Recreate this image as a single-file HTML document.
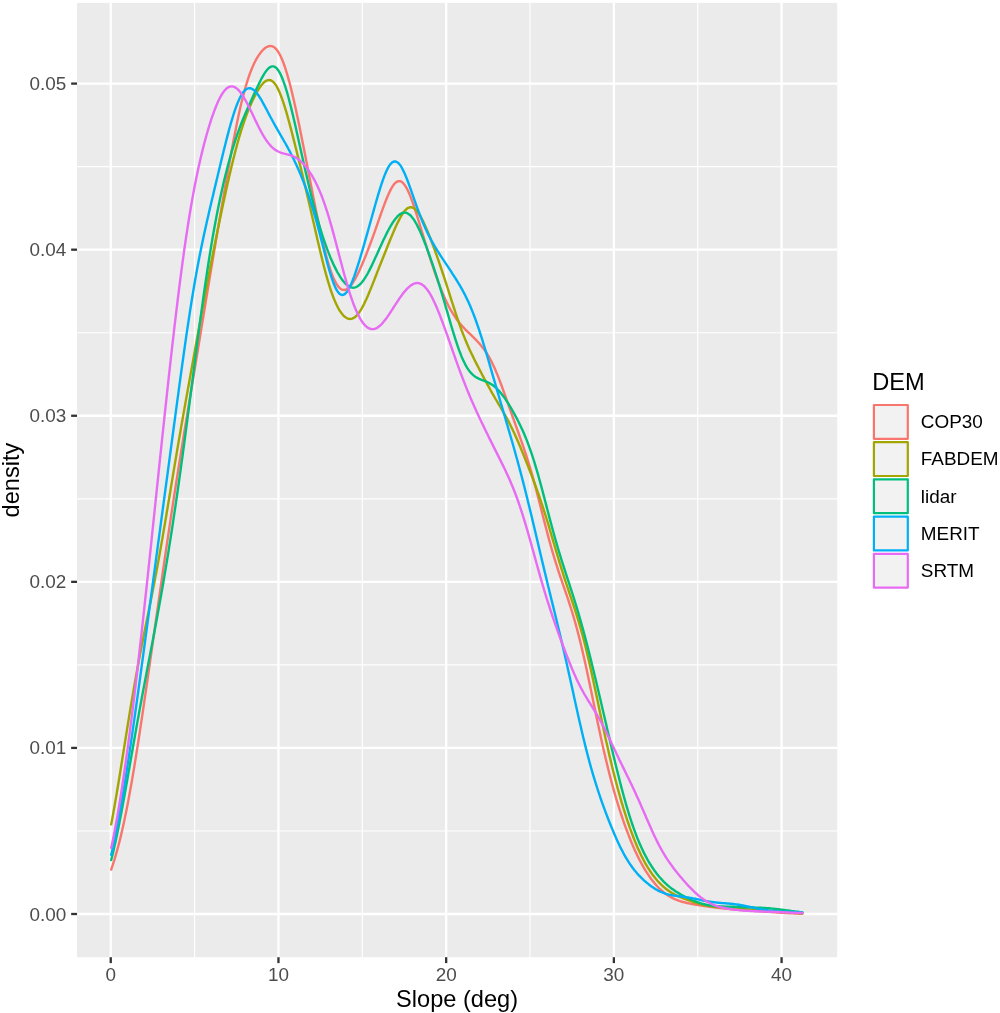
<!DOCTYPE html>
<html><head><meta charset="utf-8"><title>Slope density</title>
<style>html,body{margin:0;padding:0;background:#fff;overflow:hidden}svg{display:block}text{font-family:"Liberation Sans",sans-serif}</style></head><body>
<svg width="1000" height="1013" viewBox="0 0 1000 1013">
<rect x="0" y="0" width="1000" height="1013" fill="#fff"/>
<rect x="77.05" y="2.9" width="760.15" height="954.30" fill="#EBEBEB"/>
<g stroke="#fff" stroke-width="1.15" fill="none">
<line x1="194.61" x2="194.61" y1="2.9" y2="957.2"/>
<line x1="362.31" x2="362.31" y1="2.9" y2="957.2"/>
<line x1="530.03" x2="530.03" y1="2.9" y2="957.2"/>
<line x1="697.74" x2="697.74" y1="2.9" y2="957.2"/>
<line y1="830.96" y2="830.96" x1="77.05" x2="837.2"/>
<line y1="664.88" y2="664.88" x1="77.05" x2="837.2"/>
<line y1="498.80" y2="498.80" x1="77.05" x2="837.2"/>
<line y1="332.72" y2="332.72" x1="77.05" x2="837.2"/>
<line y1="166.64" y2="166.64" x1="77.05" x2="837.2"/>
</g>
<g stroke="#fff" stroke-width="2.3" fill="none">
<line x1="110.75" x2="110.75" y1="2.9" y2="957.2"/>
<line x1="278.46" x2="278.46" y1="2.9" y2="957.2"/>
<line x1="446.17" x2="446.17" y1="2.9" y2="957.2"/>
<line x1="613.88" x2="613.88" y1="2.9" y2="957.2"/>
<line x1="781.59" x2="781.59" y1="2.9" y2="957.2"/>
<line y1="914.00" y2="914.00" x1="77.05" x2="837.2"/>
<line y1="747.92" y2="747.92" x1="77.05" x2="837.2"/>
<line y1="581.84" y2="581.84" x1="77.05" x2="837.2"/>
<line y1="415.76" y2="415.76" x1="77.05" x2="837.2"/>
<line y1="249.68" y2="249.68" x1="77.05" x2="837.2"/>
<line y1="83.60" y2="83.60" x1="77.05" x2="837.2"/>
</g>
<g fill="none" stroke-width="2.4" stroke-linejoin="round" stroke-linecap="round">
<path stroke="#F8766D" d="M111.2,869.5 L112.2,866.6 L113.2,863.6 L114.2,860.5 L115.2,857.2 L116.2,853.7 L117.2,850.2 L118.2,846.5 L119.2,842.6 L120.2,838.6 L121.2,834.4 L122.2,830.1 L123.2,825.7 L124.2,821.1 L125.2,816.3 L126.2,811.4 L127.2,806.4 L128.2,801.2 L129.2,795.8 L130.2,790.3 L131.2,784.7 L132.2,779.0 L133.2,773.1 L134.2,767.2 L135.2,761.1 L136.2,754.9 L137.2,748.6 L138.2,742.2 L139.2,735.7 L140.2,729.1 L141.2,722.5 L142.2,715.8 L143.2,709.1 L144.2,702.2 L145.2,695.4 L146.2,688.5 L147.2,681.6 L148.2,674.6 L149.2,667.6 L150.2,660.6 L151.2,653.6 L152.2,646.5 L153.2,639.5 L154.2,632.5 L155.2,625.4 L156.2,618.4 L157.2,611.4 L158.2,604.3 L159.2,597.3 L160.2,590.3 L161.2,583.4 L162.2,576.4 L163.2,569.5 L164.2,562.6 L165.2,555.7 L166.2,548.9 L167.2,542.1 L168.2,535.3 L169.2,528.6 L170.2,521.9 L171.2,515.3 L172.2,508.7 L173.2,502.1 L174.2,495.6 L175.2,489.2 L176.2,482.7 L177.2,476.4 L178.2,470.0 L179.2,463.7 L180.2,457.5 L181.2,451.3 L182.2,445.1 L183.2,438.9 L184.2,432.8 L185.2,426.7 L186.2,420.6 L187.2,414.5 L188.2,408.5 L189.2,402.4 L190.2,396.3 L191.2,390.3 L192.2,384.2 L193.2,378.2 L194.2,372.1 L195.2,366.0 L196.2,359.9 L197.2,353.8 L198.2,347.7 L199.2,341.6 L200.2,335.5 L201.2,329.4 L202.2,323.3 L203.2,317.2 L204.2,311.1 L205.2,305.0 L206.2,298.9 L207.2,292.8 L208.2,286.8 L209.2,280.8 L210.2,274.7 L211.2,268.7 L212.2,262.8 L213.2,256.8 L214.2,250.9 L215.2,245.0 L216.2,239.1 L217.2,233.2 L218.2,227.3 L219.2,221.5 L220.2,215.6 L221.2,209.8 L222.2,204.0 L223.2,198.2 L224.2,192.5 L225.2,186.7 L226.2,181.0 L227.2,175.3 L228.2,169.7 L229.2,164.1 L230.2,158.5 L231.2,153.1 L232.2,147.6 L233.2,142.3 L234.2,137.1 L235.2,131.9 L236.2,126.9 L237.2,122.0 L238.2,117.2 L239.2,112.6 L240.2,108.1 L241.2,103.8 L242.2,99.7 L243.2,95.7 L244.2,91.9 L245.2,88.3 L246.2,84.8 L247.2,81.6 L248.2,78.5 L249.2,75.5 L250.2,72.8 L251.2,70.2 L252.2,67.7 L253.2,65.5 L254.2,63.3 L255.2,61.3 L256.2,59.4 L257.2,57.7 L258.2,56.1 L259.2,54.6 L260.2,53.2 L261.2,51.9 L262.2,50.8 L263.2,49.7 L264.2,48.8 L265.2,48.0 L266.2,47.3 L267.2,46.8 L268.2,46.4 L269.2,46.1 L270.2,46.0 L271.2,46.1 L272.2,46.3 L273.2,46.7 L274.2,47.3 L275.2,48.1 L276.2,49.1 L277.2,50.4 L278.2,51.8 L279.2,53.5 L280.2,55.3 L281.2,57.4 L282.2,59.7 L283.2,62.2 L284.2,65.0 L285.2,67.9 L286.2,71.0 L287.2,74.3 L288.2,77.8 L289.2,81.5 L290.2,85.3 L291.2,89.3 L292.2,93.4 L293.2,97.7 L294.2,102.1 L295.2,106.5 L296.2,111.1 L297.2,115.8 L298.2,120.5 L299.2,125.3 L300.2,130.2 L301.2,135.2 L302.2,140.2 L303.2,145.2 L304.2,150.3 L305.2,155.3 L306.2,160.5 L307.2,165.6 L308.2,170.7 L309.2,175.9 L310.2,181.0 L311.2,186.2 L312.2,191.3 L313.2,196.4 L314.2,201.4 L315.2,206.4 L316.2,211.4 L317.2,216.3 L318.2,221.1 L319.2,225.8 L320.2,230.5 L321.2,235.0 L322.2,239.4 L323.2,243.7 L324.2,247.9 L325.2,251.9 L326.2,255.7 L327.2,259.4 L328.2,262.9 L329.2,266.2 L330.2,269.3 L331.2,272.2 L332.2,274.9 L333.2,277.4 L334.2,279.6 L335.2,281.7 L336.2,283.5 L337.2,285.1 L338.2,286.4 L339.2,287.6 L340.2,288.5 L341.2,289.2 L342.2,289.7 L343.2,289.9 L344.2,290.0 L345.2,289.8 L346.2,289.4 L347.2,288.9 L348.2,288.2 L349.2,287.3 L350.2,286.2 L351.2,285.0 L352.2,283.7 L353.2,282.2 L354.2,280.5 L355.2,278.8 L356.2,277.0 L357.2,275.0 L358.2,273.0 L359.2,270.9 L360.2,268.7 L361.2,266.5 L362.2,264.2 L363.2,261.8 L364.2,259.4 L365.2,257.0 L366.2,254.5 L367.2,251.9 L368.2,249.3 L369.2,246.7 L370.2,244.0 L371.2,241.3 L372.2,238.6 L373.2,235.9 L374.2,233.1 L375.2,230.3 L376.2,227.4 L377.2,224.6 L378.2,221.7 L379.2,218.9 L380.2,216.0 L381.2,213.2 L382.2,210.4 L383.2,207.6 L384.2,204.9 L385.2,202.3 L386.2,199.7 L387.2,197.2 L388.2,194.9 L389.2,192.7 L390.2,190.6 L391.2,188.7 L392.2,187.0 L393.2,185.4 L394.2,184.1 L395.2,183.0 L396.2,182.2 L397.2,181.6 L398.2,181.2 L399.2,181.1 L400.2,181.2 L401.2,181.6 L402.2,182.3 L403.2,183.2 L404.2,184.4 L405.2,185.8 L406.2,187.4 L407.2,189.2 L408.2,191.3 L409.2,193.5 L410.2,195.9 L411.2,198.5 L412.2,201.2 L413.2,204.0 L414.2,206.9 L415.2,210.0 L416.2,213.1 L417.2,216.2 L418.2,219.5 L419.2,222.7 L420.2,226.0 L421.2,229.3 L422.2,232.6 L423.2,235.9 L424.2,239.2 L425.2,242.5 L426.2,245.7 L427.2,249.0 L428.2,252.2 L429.2,255.3 L430.2,258.5 L431.2,261.6 L432.2,264.6 L433.2,267.6 L434.2,270.6 L435.2,273.5 L436.2,276.3 L437.2,279.1 L438.2,281.8 L439.2,284.5 L440.2,287.1 L441.2,289.6 L442.2,292.1 L443.2,294.5 L444.2,296.8 L445.2,299.0 L446.2,301.2 L447.2,303.3 L448.2,305.3 L449.2,307.2 L450.2,309.1 L451.2,310.8 L452.2,312.5 L453.2,314.2 L454.2,315.7 L455.2,317.2 L456.2,318.6 L457.2,320.0 L458.2,321.3 L459.2,322.6 L460.2,323.8 L461.2,324.9 L462.2,326.1 L463.2,327.1 L464.2,328.2 L465.2,329.3 L466.2,330.3 L467.2,331.3 L468.2,332.3 L469.2,333.2 L470.2,334.2 L471.2,335.2 L472.2,336.2 L473.2,337.1 L474.2,338.1 L475.2,339.1 L476.2,340.1 L477.2,341.2 L478.2,342.3 L479.2,343.4 L480.2,344.5 L481.2,345.7 L482.2,346.9 L483.2,348.2 L484.2,349.6 L485.2,351.0 L486.2,352.5 L487.2,354.0 L488.2,355.7 L489.2,357.4 L490.2,359.2 L491.2,361.1 L492.2,363.1 L493.2,365.2 L494.2,367.3 L495.2,369.6 L496.2,371.9 L497.2,374.3 L498.2,376.8 L499.2,379.4 L500.2,382.0 L501.2,384.7 L502.2,387.4 L503.2,390.2 L504.2,392.9 L505.2,395.7 L506.2,398.6 L507.2,401.4 L508.2,404.2 L509.2,407.1 L510.2,409.9 L511.2,412.7 L512.2,415.5 L513.2,418.3 L514.2,421.1 L515.2,423.9 L516.2,426.7 L517.2,429.4 L518.2,432.2 L519.2,435.0 L520.2,437.8 L521.2,440.6 L522.2,443.5 L523.2,446.4 L524.2,449.3 L525.2,452.3 L526.2,455.4 L527.2,458.5 L528.2,461.7 L529.2,464.9 L530.2,468.3 L531.2,471.7 L532.2,475.2 L533.2,478.7 L534.2,482.4 L535.2,486.1 L536.2,489.8 L537.2,493.7 L538.2,497.5 L539.2,501.4 L540.2,505.3 L541.2,509.3 L542.2,513.2 L543.2,517.2 L544.2,521.1 L545.2,525.0 L546.2,528.8 L547.2,532.6 L548.2,536.4 L549.2,540.1 L550.2,543.7 L551.2,547.3 L552.2,550.8 L553.2,554.2 L554.2,557.6 L555.2,560.8 L556.2,564.0 L557.2,567.2 L558.2,570.3 L559.2,573.3 L560.2,576.3 L561.2,579.2 L562.2,582.1 L563.2,585.1 L564.2,588.0 L565.2,590.9 L566.2,593.8 L567.2,596.7 L568.2,599.7 L569.2,602.8 L570.2,605.8 L571.2,609.0 L572.2,612.2 L573.2,615.6 L574.2,619.0 L575.2,622.5 L576.2,626.1 L577.2,629.8 L578.2,633.6 L579.2,637.5 L580.2,641.5 L581.2,645.7 L582.2,649.9 L583.2,654.2 L584.2,658.6 L585.2,663.1 L586.2,667.6 L587.2,672.2 L588.2,676.9 L589.2,681.7 L590.2,686.4 L591.2,691.2 L592.2,696.1 L593.2,700.9 L594.2,705.7 L595.2,710.6 L596.2,715.4 L597.2,720.2 L598.2,724.9 L599.2,729.6 L600.2,734.3 L601.2,738.9 L602.2,743.4 L603.2,747.9 L604.2,752.2 L605.2,756.6 L606.2,760.8 L607.2,764.9 L608.2,769.0 L609.2,773.0 L610.2,776.9 L611.2,780.7 L612.2,784.4 L613.2,788.1 L614.2,791.7 L615.2,795.2 L616.2,798.6 L617.2,801.9 L618.2,805.2 L619.2,808.4 L620.2,811.5 L621.2,814.5 L622.2,817.5 L623.2,820.4 L624.2,823.3 L625.2,826.1 L626.2,828.8 L627.2,831.5 L628.2,834.1 L629.2,836.7 L630.2,839.2 L631.2,841.7 L632.2,844.1 L633.2,846.4 L634.2,848.7 L635.2,850.9 L636.2,853.1 L637.2,855.2 L638.2,857.2 L639.2,859.2 L640.2,861.2 L641.2,863.0 L642.2,864.9 L643.2,866.7 L644.2,868.4 L645.2,870.0 L646.2,871.7 L647.2,873.2 L648.2,874.7 L649.2,876.2 L650.2,877.6 L651.2,879.0 L652.2,880.3 L653.2,881.6 L654.2,882.8 L655.2,884.0 L656.2,885.1 L657.2,886.2 L658.2,887.3 L659.2,888.3 L660.2,889.2 L661.2,890.2 L662.2,891.0 L663.2,891.9 L664.2,892.7 L665.2,893.5 L666.2,894.2 L667.2,894.9 L668.2,895.6 L669.2,896.2 L670.2,896.8 L671.2,897.4 L672.2,897.9 L673.2,898.4 L674.2,898.9 L675.2,899.3 L676.2,899.7 L677.2,900.1 L678.2,900.5 L679.2,900.8 L680.2,901.2 L681.2,901.5 L682.2,901.8 L683.2,902.0 L684.2,902.3 L685.2,902.5 L686.2,902.8 L687.2,903.0 L688.2,903.2 L689.2,903.4 L690.2,903.6 L691.2,903.8 L692.2,904.0 L693.2,904.2 L694.2,904.3 L695.2,904.5 L696.2,904.7 L697.2,904.8 L698.2,905.0 L699.2,905.2 L700.2,905.3 L701.2,905.5 L702.2,905.6 L703.2,905.8 L704.2,906.0 L705.2,906.1 L706.2,906.3 L707.2,906.4 L708.2,906.6 L709.2,906.7 L710.2,906.8 L711.2,907.0 L712.2,907.1 L713.2,907.2 L714.2,907.4 L715.2,907.5 L716.2,907.6 L717.2,907.8 L718.2,907.9 L719.2,908.0 L720.2,908.1 L721.2,908.2 L722.2,908.3 L723.2,908.4 L724.2,908.5 L725.2,908.6 L726.2,908.7 L727.2,908.8 L728.2,908.9 L729.2,909.0 L730.2,909.1 L731.2,909.2 L732.2,909.3 L733.2,909.4 L734.2,909.5 L735.2,909.6 L736.2,909.6 L737.2,909.7 L738.2,909.8 L739.2,909.9 L740.2,910.0 L741.2,910.0 L742.2,910.1 L743.2,910.2 L744.2,910.3 L745.2,910.3 L746.2,910.4 L747.2,910.5 L748.2,910.5 L749.2,910.6 L750.2,910.7 L751.2,910.7 L752.2,910.8 L753.2,910.9 L754.2,910.9 L755.2,911.0 L756.2,911.1 L757.2,911.1 L758.2,911.2 L759.2,911.2 L760.2,911.3 L761.2,911.4 L762.2,911.4 L763.2,911.5 L764.2,911.6 L765.2,911.6 L766.2,911.7 L767.2,911.8 L768.2,911.8 L769.2,911.9 L770.2,912.0 L771.2,912.1 L772.2,912.1 L773.2,912.2 L774.2,912.3 L775.2,912.3 L776.2,912.4 L777.2,912.5 L778.2,912.6 L779.2,912.6 L780.2,912.7 L781.2,912.8 L782.2,912.8 L783.2,912.9 L784.2,913.0 L785.2,913.0 L786.2,913.1 L787.2,913.1 L788.2,913.2 L789.2,913.2 L790.2,913.3 L791.2,913.3 L792.2,913.4 L793.2,913.4 L794.2,913.5 L795.2,913.5 L796.2,913.6 L797.2,913.6 L798.2,913.6 L799.2,913.7 L800.2,913.7 L801.2,913.7 L802.2,913.7 L802.3,913.8"/>
<path stroke="#A3A500" d="M111.2,824.4 L112.2,819.0 L113.2,813.6 L114.2,808.0 L115.2,802.3 L116.2,796.5 L117.2,790.5 L118.2,784.5 L119.2,778.4 L120.2,772.2 L121.2,766.0 L122.2,759.8 L123.2,753.5 L124.2,747.2 L125.2,741.0 L126.2,734.7 L127.2,728.5 L128.2,722.3 L129.2,716.1 L130.2,710.0 L131.2,704.0 L132.2,698.1 L133.2,692.2 L134.2,686.4 L135.2,680.8 L136.2,675.2 L137.2,669.7 L138.2,664.2 L139.2,658.9 L140.2,653.6 L141.2,648.4 L142.2,643.3 L143.2,638.3 L144.2,633.2 L145.2,628.2 L146.2,623.3 L147.2,618.3 L148.2,613.4 L149.2,608.4 L150.2,603.5 L151.2,598.5 L152.2,593.4 L153.2,588.3 L154.2,583.2 L155.2,577.9 L156.2,572.7 L157.2,567.3 L158.2,561.9 L159.2,556.4 L160.2,550.8 L161.2,545.1 L162.2,539.4 L163.2,533.6 L164.2,527.8 L165.2,521.9 L166.2,516.0 L167.2,510.0 L168.2,504.0 L169.2,498.0 L170.2,492.0 L171.2,485.9 L172.2,479.9 L173.2,473.9 L174.2,467.9 L175.2,462.0 L176.2,456.0 L177.2,450.1 L178.2,444.3 L179.2,438.4 L180.2,432.7 L181.2,426.9 L182.2,421.2 L183.2,415.5 L184.2,409.9 L185.2,404.2 L186.2,398.6 L187.2,393.1 L188.2,387.5 L189.2,382.0 L190.2,376.4 L191.2,370.9 L192.2,365.4 L193.2,359.9 L194.2,354.3 L195.2,348.8 L196.2,343.3 L197.2,337.8 L198.2,332.3 L199.2,326.8 L200.2,321.3 L201.2,315.8 L202.2,310.4 L203.2,304.9 L204.2,299.5 L205.2,294.1 L206.2,288.8 L207.2,283.5 L208.2,278.2 L209.2,272.9 L210.2,267.7 L211.2,262.5 L212.2,257.4 L213.2,252.3 L214.2,247.3 L215.2,242.2 L216.2,237.3 L217.2,232.4 L218.2,227.5 L219.2,222.6 L220.2,217.8 L221.2,213.0 L222.2,208.3 L223.2,203.6 L224.2,199.0 L225.2,194.4 L226.2,189.8 L227.2,185.3 L228.2,180.9 L229.2,176.5 L230.2,172.2 L231.2,167.9 L232.2,163.8 L233.2,159.7 L234.2,155.7 L235.2,151.8 L236.2,148.0 L237.2,144.3 L238.2,140.7 L239.2,137.2 L240.2,133.8 L241.2,130.5 L242.2,127.3 L243.2,124.3 L244.2,121.3 L245.2,118.5 L246.2,115.7 L247.2,113.1 L248.2,110.5 L249.2,108.1 L250.2,105.7 L251.2,103.4 L252.2,101.3 L253.2,99.1 L254.2,97.1 L255.2,95.2 L256.2,93.3 L257.2,91.6 L258.2,89.9 L259.2,88.3 L260.2,86.8 L261.2,85.5 L262.2,84.3 L263.2,83.2 L264.2,82.2 L265.2,81.4 L266.2,80.8 L267.2,80.4 L268.2,80.1 L269.2,80.0 L270.2,80.2 L271.2,80.5 L272.2,81.1 L273.2,81.9 L274.2,83.0 L275.2,84.2 L276.2,85.7 L277.2,87.4 L278.2,89.4 L279.2,91.5 L280.2,93.9 L281.2,96.5 L282.2,99.2 L283.2,102.1 L284.2,105.2 L285.2,108.4 L286.2,111.7 L287.2,115.2 L288.2,118.8 L289.2,122.4 L290.2,126.1 L291.2,129.9 L292.2,133.8 L293.2,137.6 L294.2,141.6 L295.2,145.5 L296.2,149.5 L297.2,153.5 L298.2,157.6 L299.2,161.6 L300.2,165.7 L301.2,169.8 L302.2,173.9 L303.2,178.0 L304.2,182.2 L305.2,186.4 L306.2,190.6 L307.2,194.9 L308.2,199.2 L309.2,203.5 L310.2,207.8 L311.2,212.2 L312.2,216.5 L313.2,220.9 L314.2,225.3 L315.2,229.7 L316.2,234.1 L317.2,238.4 L318.2,242.8 L319.2,247.0 L320.2,251.3 L321.2,255.4 L322.2,259.5 L323.2,263.5 L324.2,267.4 L325.2,271.2 L326.2,274.9 L327.2,278.4 L328.2,281.9 L329.2,285.1 L330.2,288.3 L331.2,291.3 L332.2,294.1 L333.2,296.8 L334.2,299.4 L335.2,301.8 L336.2,304.0 L337.2,306.1 L338.2,308.0 L339.2,309.8 L340.2,311.4 L341.2,312.8 L342.2,314.1 L343.2,315.3 L344.2,316.3 L345.2,317.1 L346.2,317.8 L347.2,318.3 L348.2,318.7 L349.2,318.9 L350.2,319.0 L351.2,318.9 L352.2,318.6 L353.2,318.2 L354.2,317.6 L355.2,316.9 L356.2,316.0 L357.2,314.9 L358.2,313.7 L359.2,312.4 L360.2,310.9 L361.2,309.3 L362.2,307.5 L363.2,305.7 L364.2,303.7 L365.2,301.6 L366.2,299.5 L367.2,297.2 L368.2,294.9 L369.2,292.5 L370.2,290.1 L371.2,287.6 L372.2,285.1 L373.2,282.6 L374.2,280.1 L375.2,277.5 L376.2,275.0 L377.2,272.4 L378.2,269.9 L379.2,267.3 L380.2,264.8 L381.2,262.3 L382.2,259.7 L383.2,257.2 L384.2,254.7 L385.2,252.2 L386.2,249.7 L387.2,247.2 L388.2,244.8 L389.2,242.3 L390.2,239.8 L391.2,237.4 L392.2,235.0 L393.2,232.6 L394.2,230.3 L395.2,228.0 L396.2,225.8 L397.2,223.6 L398.2,221.6 L399.2,219.6 L400.2,217.7 L401.2,215.9 L402.2,214.3 L403.2,212.8 L404.2,211.5 L405.2,210.3 L406.2,209.3 L407.2,208.5 L408.2,207.9 L409.2,207.5 L410.2,207.3 L411.2,207.3 L412.2,207.5 L413.2,207.9 L414.2,208.5 L415.2,209.3 L416.2,210.2 L417.2,211.4 L418.2,212.7 L419.2,214.2 L420.2,215.9 L421.2,217.6 L422.2,219.5 L423.2,221.6 L424.2,223.7 L425.2,225.9 L426.2,228.2 L427.2,230.5 L428.2,233.0 L429.2,235.5 L430.2,238.0 L431.2,240.6 L432.2,243.2 L433.2,245.9 L434.2,248.6 L435.2,251.3 L436.2,254.1 L437.2,256.9 L438.2,259.7 L439.2,262.6 L440.2,265.5 L441.2,268.5 L442.2,271.5 L443.2,274.5 L444.2,277.5 L445.2,280.6 L446.2,283.7 L447.2,286.8 L448.2,289.9 L449.2,293.1 L450.2,296.2 L451.2,299.4 L452.2,302.5 L453.2,305.6 L454.2,308.7 L455.2,311.8 L456.2,314.8 L457.2,317.8 L458.2,320.7 L459.2,323.6 L460.2,326.4 L461.2,329.1 L462.2,331.8 L463.2,334.4 L464.2,336.9 L465.2,339.4 L466.2,341.8 L467.2,344.2 L468.2,346.4 L469.2,348.7 L470.2,350.9 L471.2,353.0 L472.2,355.1 L473.2,357.1 L474.2,359.2 L475.2,361.2 L476.2,363.1 L477.2,365.1 L478.2,367.0 L479.2,369.0 L480.2,370.9 L481.2,372.8 L482.2,374.7 L483.2,376.6 L484.2,378.5 L485.2,380.3 L486.2,382.2 L487.2,384.1 L488.2,385.9 L489.2,387.7 L490.2,389.5 L491.2,391.3 L492.2,393.1 L493.2,394.8 L494.2,396.5 L495.2,398.3 L496.2,400.0 L497.2,401.7 L498.2,403.4 L499.2,405.1 L500.2,406.7 L501.2,408.4 L502.2,410.1 L503.2,411.9 L504.2,413.6 L505.2,415.4 L506.2,417.2 L507.2,419.0 L508.2,420.9 L509.2,422.8 L510.2,424.8 L511.2,426.8 L512.2,428.8 L513.2,430.9 L514.2,433.0 L515.2,435.2 L516.2,437.5 L517.2,439.7 L518.2,442.0 L519.2,444.4 L520.2,446.8 L521.2,449.2 L522.2,451.6 L523.2,454.1 L524.2,456.6 L525.2,459.1 L526.2,461.6 L527.2,464.1 L528.2,466.6 L529.2,469.2 L530.2,471.8 L531.2,474.4 L532.2,477.0 L533.2,479.7 L534.2,482.3 L535.2,485.0 L536.2,487.8 L537.2,490.5 L538.2,493.4 L539.2,496.2 L540.2,499.1 L541.2,502.1 L542.2,505.1 L543.2,508.2 L544.2,511.3 L545.2,514.4 L546.2,517.7 L547.2,520.9 L548.2,524.2 L549.2,527.5 L550.2,530.9 L551.2,534.3 L552.2,537.7 L553.2,541.1 L554.2,544.5 L555.2,547.9 L556.2,551.3 L557.2,554.7 L558.2,558.0 L559.2,561.3 L560.2,564.6 L561.2,567.8 L562.2,571.0 L563.2,574.2 L564.2,577.3 L565.2,580.4 L566.2,583.4 L567.2,586.4 L568.2,589.4 L569.2,592.4 L570.2,595.4 L571.2,598.3 L572.2,601.3 L573.2,604.3 L574.2,607.4 L575.2,610.5 L576.2,613.6 L577.2,616.8 L578.2,620.1 L579.2,623.4 L580.2,626.8 L581.2,630.4 L582.2,634.0 L583.2,637.7 L584.2,641.6 L585.2,645.5 L586.2,649.5 L587.2,653.7 L588.2,657.9 L589.2,662.2 L590.2,666.6 L591.2,671.1 L592.2,675.7 L593.2,680.3 L594.2,684.9 L595.2,689.6 L596.2,694.3 L597.2,699.1 L598.2,703.8 L599.2,708.6 L600.2,713.4 L601.2,718.1 L602.2,722.8 L603.2,727.5 L604.2,732.1 L605.2,736.7 L606.2,741.2 L607.2,745.6 L608.2,750.0 L609.2,754.4 L610.2,758.6 L611.2,762.8 L612.2,767.0 L613.2,771.0 L614.2,775.0 L615.2,778.9 L616.2,782.7 L617.2,786.5 L618.2,790.2 L619.2,793.8 L620.2,797.3 L621.2,800.8 L622.2,804.2 L623.2,807.5 L624.2,810.7 L625.2,813.9 L626.2,817.0 L627.2,820.1 L628.2,823.0 L629.2,825.9 L630.2,828.8 L631.2,831.5 L632.2,834.2 L633.2,836.8 L634.2,839.4 L635.2,841.9 L636.2,844.3 L637.2,846.7 L638.2,848.9 L639.2,851.1 L640.2,853.3 L641.2,855.4 L642.2,857.4 L643.2,859.3 L644.2,861.2 L645.2,863.1 L646.2,864.8 L647.2,866.5 L648.2,868.2 L649.2,869.7 L650.2,871.3 L651.2,872.7 L652.2,874.2 L653.2,875.5 L654.2,876.8 L655.2,878.1 L656.2,879.3 L657.2,880.5 L658.2,881.6 L659.2,882.7 L660.2,883.7 L661.2,884.7 L662.2,885.6 L663.2,886.5 L664.2,887.4 L665.2,888.2 L666.2,889.0 L667.2,889.8 L668.2,890.5 L669.2,891.2 L670.2,891.8 L671.2,892.5 L672.2,893.1 L673.2,893.6 L674.2,894.2 L675.2,894.7 L676.2,895.2 L677.2,895.7 L678.2,896.2 L679.2,896.6 L680.2,897.1 L681.2,897.5 L682.2,897.9 L683.2,898.3 L684.2,898.7 L685.2,899.1 L686.2,899.4 L687.2,899.8 L688.2,900.2 L689.2,900.5 L690.2,900.9 L691.2,901.2 L692.2,901.5 L693.2,901.9 L694.2,902.2 L695.2,902.5 L696.2,902.8 L697.2,903.1 L698.2,903.4 L699.2,903.7 L700.2,903.9 L701.2,904.2 L702.2,904.5 L703.2,904.7 L704.2,904.9 L705.2,905.2 L706.2,905.4 L707.2,905.6 L708.2,905.8 L709.2,905.9 L710.2,906.1 L711.2,906.3 L712.2,906.4 L713.2,906.5 L714.2,906.7 L715.2,906.8 L716.2,906.9 L717.2,907.0 L718.2,907.1 L719.2,907.2 L720.2,907.3 L721.2,907.4 L722.2,907.4 L723.2,907.5 L724.2,907.6 L725.2,907.6 L726.2,907.7 L727.2,907.8 L728.2,907.8 L729.2,907.9 L730.2,908.0 L731.2,908.0 L732.2,908.1 L733.2,908.2 L734.2,908.3 L735.2,908.3 L736.2,908.4 L737.2,908.5 L738.2,908.6 L739.2,908.7 L740.2,908.7 L741.2,908.8 L742.2,908.9 L743.2,909.0 L744.2,909.1 L745.2,909.2 L746.2,909.3 L747.2,909.3 L748.2,909.4 L749.2,909.5 L750.2,909.6 L751.2,909.7 L752.2,909.8 L753.2,909.8 L754.2,909.9 L755.2,910.0 L756.2,910.1 L757.2,910.1 L758.2,910.2 L759.2,910.3 L760.2,910.4 L761.2,910.4 L762.2,910.5 L763.2,910.6 L764.2,910.6 L765.2,910.7 L766.2,910.8 L767.2,910.8 L768.2,910.9 L769.2,911.0 L770.2,911.0 L771.2,911.1 L772.2,911.2 L773.2,911.3 L774.2,911.3 L775.2,911.4 L776.2,911.5 L777.2,911.6 L778.2,911.6 L779.2,911.7 L780.2,911.8 L781.2,911.9 L782.2,912.0 L783.2,912.0 L784.2,912.1 L785.2,912.2 L786.2,912.3 L787.2,912.4 L788.2,912.4 L789.2,912.5 L790.2,912.6 L791.2,912.7 L792.2,912.7 L793.2,912.8 L794.2,912.9 L795.2,912.9 L796.2,913.0 L797.2,913.0 L798.2,913.1 L799.2,913.1 L800.2,913.2 L801.2,913.2 L802.2,913.2 L802.3,913.2"/>
<path stroke="#00BF7D" d="M111.2,860.0 L112.2,856.0 L113.2,851.9 L114.2,847.6 L115.2,843.1 L116.2,838.5 L117.2,833.7 L118.2,828.8 L119.2,823.8 L120.2,818.6 L121.2,813.4 L122.2,808.0 L123.2,802.6 L124.2,797.1 L125.2,791.5 L126.2,785.8 L127.2,780.2 L128.2,774.4 L129.2,768.7 L130.2,763.0 L131.2,757.2 L132.2,751.5 L133.2,745.7 L134.2,740.0 L135.2,734.4 L136.2,728.7 L137.2,723.1 L138.2,717.6 L139.2,712.1 L140.2,706.6 L141.2,701.2 L142.2,695.8 L143.2,690.5 L144.2,685.2 L145.2,679.9 L146.2,674.7 L147.2,669.4 L148.2,664.2 L149.2,659.0 L150.2,653.8 L151.2,648.6 L152.2,643.4 L153.2,638.1 L154.2,632.9 L155.2,627.6 L156.2,622.2 L157.2,616.8 L158.2,611.4 L159.2,605.9 L160.2,600.3 L161.2,594.7 L162.2,589.0 L163.2,583.2 L164.2,577.3 L165.2,571.4 L166.2,565.4 L167.2,559.3 L168.2,553.2 L169.2,546.9 L170.2,540.6 L171.2,534.2 L172.2,527.7 L173.2,521.1 L174.2,514.4 L175.2,507.7 L176.2,500.9 L177.2,494.0 L178.2,487.0 L179.2,479.9 L180.2,472.8 L181.2,465.6 L182.2,458.3 L183.2,450.9 L184.2,443.5 L185.2,436.0 L186.2,428.4 L187.2,420.8 L188.2,413.1 L189.2,405.4 L190.2,397.7 L191.2,389.9 L192.2,382.1 L193.2,374.3 L194.2,366.5 L195.2,358.8 L196.2,351.0 L197.2,343.3 L198.2,335.7 L199.2,328.1 L200.2,320.6 L201.2,313.2 L202.2,305.9 L203.2,298.7 L204.2,291.6 L205.2,284.7 L206.2,277.9 L207.2,271.2 L208.2,264.7 L209.2,258.3 L210.2,252.1 L211.2,246.0 L212.2,240.1 L213.2,234.3 L214.2,228.7 L215.2,223.3 L216.2,218.0 L217.2,212.8 L218.2,207.8 L219.2,202.9 L220.2,198.1 L221.2,193.5 L222.2,189.0 L223.2,184.6 L224.2,180.3 L225.2,176.2 L226.2,172.2 L227.2,168.2 L228.2,164.4 L229.2,160.7 L230.2,157.1 L231.2,153.6 L232.2,150.2 L233.2,146.9 L234.2,143.7 L235.2,140.6 L236.2,137.6 L237.2,134.7 L238.2,131.9 L239.2,129.1 L240.2,126.4 L241.2,123.8 L242.2,121.3 L243.2,118.8 L244.2,116.4 L245.2,114.1 L246.2,111.7 L247.2,109.4 L248.2,107.1 L249.2,104.9 L250.2,102.7 L251.2,100.4 L252.2,98.2 L253.2,96.0 L254.2,93.8 L255.2,91.7 L256.2,89.5 L257.2,87.4 L258.2,85.3 L259.2,83.2 L260.2,81.2 L261.2,79.2 L262.2,77.4 L263.2,75.6 L264.2,73.9 L265.2,72.4 L266.2,70.9 L267.2,69.7 L268.2,68.6 L269.2,67.7 L270.2,67.1 L271.2,66.6 L272.2,66.4 L273.2,66.4 L274.2,66.6 L275.2,67.1 L276.2,67.9 L277.2,68.9 L278.2,70.2 L279.2,71.8 L280.2,73.6 L281.2,75.7 L282.2,78.0 L283.2,80.6 L284.2,83.3 L285.2,86.3 L286.2,89.5 L287.2,92.9 L288.2,96.5 L289.2,100.2 L290.2,104.1 L291.2,108.1 L292.2,112.2 L293.2,116.4 L294.2,120.7 L295.2,125.0 L296.2,129.5 L297.2,133.9 L298.2,138.4 L299.2,142.9 L300.2,147.4 L301.2,151.9 L302.2,156.4 L303.2,160.9 L304.2,165.4 L305.2,169.8 L306.2,174.2 L307.2,178.5 L308.2,182.8 L309.2,187.0 L310.2,191.2 L311.2,195.2 L312.2,199.3 L313.2,203.2 L314.2,207.0 L315.2,210.8 L316.2,214.5 L317.2,218.1 L318.2,221.6 L319.2,225.0 L320.2,228.4 L321.2,231.6 L322.2,234.8 L323.2,237.8 L324.2,240.8 L325.2,243.7 L326.2,246.5 L327.2,249.2 L328.2,251.9 L329.2,254.4 L330.2,256.9 L331.2,259.2 L332.2,261.5 L333.2,263.7 L334.2,265.9 L335.2,267.9 L336.2,269.9 L337.2,271.8 L338.2,273.5 L339.2,275.2 L340.2,276.9 L341.2,278.4 L342.2,279.8 L343.2,281.1 L344.2,282.3 L345.2,283.4 L346.2,284.4 L347.2,285.2 L348.2,286.0 L349.2,286.6 L350.2,287.0 L351.2,287.4 L352.2,287.6 L353.2,287.7 L354.2,287.6 L355.2,287.4 L356.2,287.0 L357.2,286.5 L358.2,285.8 L359.2,285.1 L360.2,284.1 L361.2,283.1 L362.2,281.9 L363.2,280.6 L364.2,279.2 L365.2,277.7 L366.2,276.0 L367.2,274.3 L368.2,272.5 L369.2,270.6 L370.2,268.6 L371.2,266.6 L372.2,264.6 L373.2,262.4 L374.2,260.3 L375.2,258.1 L376.2,255.9 L377.2,253.7 L378.2,251.5 L379.2,249.3 L380.2,247.1 L381.2,244.9 L382.2,242.7 L383.2,240.6 L384.2,238.5 L385.2,236.4 L386.2,234.4 L387.2,232.4 L388.2,230.5 L389.2,228.6 L390.2,226.8 L391.2,225.1 L392.2,223.5 L393.2,221.9 L394.2,220.5 L395.2,219.1 L396.2,217.9 L397.2,216.7 L398.2,215.7 L399.2,214.8 L400.2,214.1 L401.2,213.5 L402.2,213.0 L403.2,212.8 L404.2,212.6 L405.2,212.6 L406.2,212.8 L407.2,213.2 L408.2,213.7 L409.2,214.4 L410.2,215.2 L411.2,216.2 L412.2,217.4 L413.2,218.7 L414.2,220.2 L415.2,221.8 L416.2,223.5 L417.2,225.4 L418.2,227.4 L419.2,229.4 L420.2,231.6 L421.2,233.9 L422.2,236.3 L423.2,238.7 L424.2,241.2 L425.2,243.8 L426.2,246.4 L427.2,249.1 L428.2,251.8 L429.2,254.6 L430.2,257.4 L431.2,260.3 L432.2,263.2 L433.2,266.1 L434.2,269.1 L435.2,272.2 L436.2,275.2 L437.2,278.4 L438.2,281.5 L439.2,284.7 L440.2,288.0 L441.2,291.3 L442.2,294.6 L443.2,298.0 L444.2,301.4 L445.2,304.8 L446.2,308.3 L447.2,311.7 L448.2,315.2 L449.2,318.6 L450.2,322.1 L451.2,325.5 L452.2,328.8 L453.2,332.1 L454.2,335.4 L455.2,338.6 L456.2,341.7 L457.2,344.7 L458.2,347.6 L459.2,350.4 L460.2,353.0 L461.2,355.6 L462.2,358.0 L463.2,360.2 L464.2,362.3 L465.2,364.3 L466.2,366.1 L467.2,367.8 L468.2,369.4 L469.2,370.8 L470.2,372.0 L471.2,373.2 L472.2,374.2 L473.2,375.1 L474.2,375.9 L475.2,376.7 L476.2,377.3 L477.2,377.9 L478.2,378.4 L479.2,378.9 L480.2,379.3 L481.2,379.7 L482.2,380.1 L483.2,380.4 L484.2,380.8 L485.2,381.2 L486.2,381.6 L487.2,382.0 L488.2,382.5 L489.2,383.0 L490.2,383.6 L491.2,384.2 L492.2,384.8 L493.2,385.5 L494.2,386.3 L495.2,387.1 L496.2,388.0 L497.2,389.0 L498.2,390.0 L499.2,391.1 L500.2,392.2 L501.2,393.4 L502.2,394.7 L503.2,396.0 L504.2,397.4 L505.2,398.8 L506.2,400.3 L507.2,401.8 L508.2,403.4 L509.2,405.0 L510.2,406.7 L511.2,408.4 L512.2,410.1 L513.2,411.8 L514.2,413.6 L515.2,415.5 L516.2,417.4 L517.2,419.3 L518.2,421.2 L519.2,423.2 L520.2,425.3 L521.2,427.4 L522.2,429.6 L523.2,431.8 L524.2,434.1 L525.2,436.5 L526.2,438.9 L527.2,441.4 L528.2,444.1 L529.2,446.8 L530.2,449.6 L531.2,452.4 L532.2,455.4 L533.2,458.5 L534.2,461.7 L535.2,464.9 L536.2,468.3 L537.2,471.7 L538.2,475.2 L539.2,478.8 L540.2,482.4 L541.2,486.1 L542.2,489.8 L543.2,493.6 L544.2,497.4 L545.2,501.3 L546.2,505.1 L547.2,509.0 L548.2,512.8 L549.2,516.6 L550.2,520.4 L551.2,524.1 L552.2,527.9 L553.2,531.5 L554.2,535.1 L555.2,538.7 L556.2,542.2 L557.2,545.7 L558.2,549.0 L559.2,552.4 L560.2,555.7 L561.2,558.9 L562.2,562.1 L563.2,565.2 L564.2,568.4 L565.2,571.4 L566.2,574.5 L567.2,577.6 L568.2,580.6 L569.2,583.7 L570.2,586.8 L571.2,589.8 L572.2,593.0 L573.2,596.1 L574.2,599.3 L575.2,602.5 L576.2,605.8 L577.2,609.1 L578.2,612.4 L579.2,615.9 L580.2,619.3 L581.2,622.9 L582.2,626.5 L583.2,630.1 L584.2,633.8 L585.2,637.6 L586.2,641.4 L587.2,645.2 L588.2,649.1 L589.2,653.1 L590.2,657.1 L591.2,661.1 L592.2,665.2 L593.2,669.3 L594.2,673.5 L595.2,677.6 L596.2,681.8 L597.2,686.0 L598.2,690.3 L599.2,694.5 L600.2,698.8 L601.2,703.1 L602.2,707.4 L603.2,711.7 L604.2,716.0 L605.2,720.3 L606.2,724.6 L607.2,728.9 L608.2,733.2 L609.2,737.4 L610.2,741.7 L611.2,746.0 L612.2,750.2 L613.2,754.4 L614.2,758.5 L615.2,762.7 L616.2,766.8 L617.2,770.8 L618.2,774.8 L619.2,778.8 L620.2,782.7 L621.2,786.6 L622.2,790.3 L623.2,794.0 L624.2,797.7 L625.2,801.3 L626.2,804.8 L627.2,808.2 L628.2,811.5 L629.2,814.8 L630.2,817.9 L631.2,821.0 L632.2,824.0 L633.2,826.9 L634.2,829.7 L635.2,832.4 L636.2,835.1 L637.2,837.7 L638.2,840.1 L639.2,842.5 L640.2,844.8 L641.2,847.1 L642.2,849.2 L643.2,851.3 L644.2,853.4 L645.2,855.3 L646.2,857.2 L647.2,859.0 L648.2,860.8 L649.2,862.5 L650.2,864.1 L651.2,865.7 L652.2,867.3 L653.2,868.7 L654.2,870.2 L655.2,871.6 L656.2,872.9 L657.2,874.2 L658.2,875.5 L659.2,876.7 L660.2,877.8 L661.2,878.9 L662.2,880.0 L663.2,881.1 L664.2,882.1 L665.2,883.0 L666.2,884.0 L667.2,884.9 L668.2,885.8 L669.2,886.6 L670.2,887.4 L671.2,888.2 L672.2,888.9 L673.2,889.6 L674.2,890.3 L675.2,891.0 L676.2,891.7 L677.2,892.3 L678.2,892.9 L679.2,893.5 L680.2,894.1 L681.2,894.7 L682.2,895.2 L683.2,895.7 L684.2,896.3 L685.2,896.8 L686.2,897.3 L687.2,897.8 L688.2,898.2 L689.2,898.7 L690.2,899.2 L691.2,899.6 L692.2,900.0 L693.2,900.5 L694.2,900.9 L695.2,901.3 L696.2,901.7 L697.2,902.0 L698.2,902.4 L699.2,902.7 L700.2,903.1 L701.2,903.4 L702.2,903.7 L703.2,903.9 L704.2,904.2 L705.2,904.5 L706.2,904.7 L707.2,904.9 L708.2,905.1 L709.2,905.3 L710.2,905.4 L711.2,905.6 L712.2,905.7 L713.2,905.8 L714.2,906.0 L715.2,906.1 L716.2,906.1 L717.2,906.2 L718.2,906.3 L719.2,906.3 L720.2,906.4 L721.2,906.4 L722.2,906.5 L723.2,906.5 L724.2,906.6 L725.2,906.6 L726.2,906.6 L727.2,906.6 L728.2,906.7 L729.2,906.7 L730.2,906.7 L731.2,906.7 L732.2,906.8 L733.2,906.8 L734.2,906.8 L735.2,906.9 L736.2,906.9 L737.2,906.9 L738.2,907.0 L739.2,907.0 L740.2,907.0 L741.2,907.1 L742.2,907.1 L743.2,907.1 L744.2,907.2 L745.2,907.2 L746.2,907.3 L747.2,907.3 L748.2,907.3 L749.2,907.4 L750.2,907.4 L751.2,907.4 L752.2,907.5 L753.2,907.5 L754.2,907.5 L755.2,907.6 L756.2,907.6 L757.2,907.7 L758.2,907.7 L759.2,907.7 L760.2,907.8 L761.2,907.8 L762.2,907.9 L763.2,907.9 L764.2,908.0 L765.2,908.0 L766.2,908.1 L767.2,908.2 L768.2,908.2 L769.2,908.3 L770.2,908.4 L771.2,908.5 L772.2,908.6 L773.2,908.7 L774.2,908.8 L775.2,908.9 L776.2,909.0 L777.2,909.1 L778.2,909.2 L779.2,909.3 L780.2,909.5 L781.2,909.6 L782.2,909.7 L783.2,909.9 L784.2,910.0 L785.2,910.1 L786.2,910.3 L787.2,910.4 L788.2,910.5 L789.2,910.7 L790.2,910.8 L791.2,911.0 L792.2,911.1 L793.2,911.2 L794.2,911.4 L795.2,911.5 L796.2,911.6 L797.2,911.7 L798.2,911.8 L799.2,912.0 L800.2,912.1 L801.2,912.2 L802.2,912.3 L802.3,912.3"/>
<path stroke="#00B0F6" d="M111.2,854.8 L112.2,850.5 L113.2,846.1 L114.2,841.5 L115.2,836.7 L116.2,831.7 L117.2,826.6 L118.2,821.3 L119.2,815.9 L120.2,810.3 L121.2,804.6 L122.2,798.8 L123.2,792.8 L124.2,786.7 L125.2,780.4 L126.2,774.1 L127.2,767.6 L128.2,761.1 L129.2,754.5 L130.2,747.7 L131.2,740.9 L132.2,734.1 L133.2,727.1 L134.2,720.1 L135.2,713.1 L136.2,706.0 L137.2,698.8 L138.2,691.6 L139.2,684.3 L140.2,677.1 L141.2,669.7 L142.2,662.4 L143.2,655.0 L144.2,647.6 L145.2,640.2 L146.2,632.8 L147.2,625.3 L148.2,617.9 L149.2,610.4 L150.2,603.0 L151.2,595.5 L152.2,588.0 L153.2,580.5 L154.2,573.1 L155.2,565.6 L156.2,558.1 L157.2,550.7 L158.2,543.2 L159.2,535.8 L160.2,528.3 L161.2,520.9 L162.2,513.5 L163.2,506.0 L164.2,498.6 L165.2,491.1 L166.2,483.7 L167.2,476.3 L168.2,468.8 L169.2,461.3 L170.2,453.9 L171.2,446.4 L172.2,439.0 L173.2,431.5 L174.2,424.0 L175.2,416.6 L176.2,409.1 L177.2,401.7 L178.2,394.3 L179.2,386.9 L180.2,379.5 L181.2,372.2 L182.2,365.0 L183.2,357.8 L184.2,350.7 L185.2,343.7 L186.2,336.7 L187.2,329.9 L188.2,323.2 L189.2,316.6 L190.2,310.1 L191.2,303.7 L192.2,297.5 L193.2,291.5 L194.2,285.5 L195.2,279.8 L196.2,274.1 L197.2,268.6 L198.2,263.3 L199.2,258.1 L200.2,253.0 L201.2,248.0 L202.2,243.2 L203.2,238.4 L204.2,233.8 L205.2,229.2 L206.2,224.7 L207.2,220.3 L208.2,215.9 L209.2,211.6 L210.2,207.3 L211.2,203.0 L212.2,198.8 L213.2,194.6 L214.2,190.3 L215.2,186.1 L216.2,181.9 L217.2,177.7 L218.2,173.5 L219.2,169.4 L220.2,165.2 L221.2,161.0 L222.2,156.9 L223.2,152.8 L224.2,148.7 L225.2,144.7 L226.2,140.8 L227.2,136.9 L228.2,133.1 L229.2,129.3 L230.2,125.7 L231.2,122.2 L232.2,118.8 L233.2,115.5 L234.2,112.4 L235.2,109.4 L236.2,106.7 L237.2,104.0 L238.2,101.6 L239.2,99.3 L240.2,97.3 L241.2,95.4 L242.2,93.8 L243.2,92.3 L244.2,91.1 L245.2,90.1 L246.2,89.3 L247.2,88.7 L248.2,88.4 L249.2,88.2 L250.2,88.3 L251.2,88.5 L252.2,89.0 L253.2,89.6 L254.2,90.4 L255.2,91.3 L256.2,92.4 L257.2,93.7 L258.2,95.0 L259.2,96.5 L260.2,98.1 L261.2,99.7 L262.2,101.5 L263.2,103.3 L264.2,105.1 L265.2,107.0 L266.2,108.9 L267.2,110.8 L268.2,112.7 L269.2,114.6 L270.2,116.5 L271.2,118.3 L272.2,120.2 L273.2,122.0 L274.2,123.9 L275.2,125.6 L276.2,127.4 L277.2,129.2 L278.2,130.9 L279.2,132.6 L280.2,134.4 L281.2,136.1 L282.2,137.8 L283.2,139.5 L284.2,141.3 L285.2,143.0 L286.2,144.8 L287.2,146.6 L288.2,148.5 L289.2,150.3 L290.2,152.2 L291.2,154.2 L292.2,156.2 L293.2,158.2 L294.2,160.3 L295.2,162.4 L296.2,164.5 L297.2,166.7 L298.2,169.0 L299.2,171.3 L300.2,173.6 L301.2,176.0 L302.2,178.5 L303.2,181.0 L304.2,183.6 L305.2,186.2 L306.2,188.9 L307.2,191.7 L308.2,194.5 L309.2,197.5 L310.2,200.5 L311.2,203.6 L312.2,206.8 L313.2,210.1 L314.2,213.5 L315.2,216.9 L316.2,220.5 L317.2,224.1 L318.2,227.9 L319.2,231.7 L320.2,235.5 L321.2,239.4 L322.2,243.3 L323.2,247.2 L324.2,251.1 L325.2,255.0 L326.2,258.9 L327.2,262.6 L328.2,266.3 L329.2,269.8 L330.2,273.2 L331.2,276.4 L332.2,279.4 L333.2,282.2 L334.2,284.8 L335.2,287.1 L336.2,289.1 L337.2,290.9 L338.2,292.3 L339.2,293.5 L340.2,294.3 L341.2,294.8 L342.2,295.0 L343.2,294.9 L344.2,294.4 L345.2,293.7 L346.2,292.7 L347.2,291.4 L348.2,289.9 L349.2,288.1 L350.2,286.1 L351.2,283.9 L352.2,281.6 L353.2,279.0 L354.2,276.3 L355.2,273.4 L356.2,270.5 L357.2,267.4 L358.2,264.3 L359.2,261.1 L360.2,257.8 L361.2,254.4 L362.2,251.0 L363.2,247.6 L364.2,244.1 L365.2,240.7 L366.2,237.1 L367.2,233.6 L368.2,230.0 L369.2,226.5 L370.2,222.9 L371.2,219.3 L372.2,215.7 L373.2,212.1 L374.2,208.6 L375.2,205.0 L376.2,201.5 L377.2,198.1 L378.2,194.7 L379.2,191.4 L380.2,188.1 L381.2,185.0 L382.2,182.0 L383.2,179.1 L384.2,176.4 L385.2,173.9 L386.2,171.6 L387.2,169.4 L388.2,167.5 L389.2,165.9 L390.2,164.4 L391.2,163.3 L392.2,162.4 L393.2,161.8 L394.2,161.5 L395.2,161.4 L396.2,161.7 L397.2,162.2 L398.2,162.9 L399.2,164.0 L400.2,165.2 L401.2,166.7 L402.2,168.5 L403.2,170.4 L404.2,172.5 L405.2,174.8 L406.2,177.2 L407.2,179.7 L408.2,182.3 L409.2,185.1 L410.2,187.9 L411.2,190.7 L412.2,193.6 L413.2,196.4 L414.2,199.3 L415.2,202.2 L416.2,205.0 L417.2,207.8 L418.2,210.5 L419.2,213.2 L420.2,215.8 L421.2,218.4 L422.2,220.9 L423.2,223.3 L424.2,225.6 L425.2,227.9 L426.2,230.1 L427.2,232.2 L428.2,234.2 L429.2,236.2 L430.2,238.2 L431.2,240.0 L432.2,241.8 L433.2,243.6 L434.2,245.4 L435.2,247.1 L436.2,248.7 L437.2,250.3 L438.2,251.9 L439.2,253.5 L440.2,255.1 L441.2,256.6 L442.2,258.2 L443.2,259.7 L444.2,261.2 L445.2,262.7 L446.2,264.2 L447.2,265.7 L448.2,267.2 L449.2,268.7 L450.2,270.2 L451.2,271.7 L452.2,273.3 L453.2,274.8 L454.2,276.3 L455.2,277.9 L456.2,279.5 L457.2,281.1 L458.2,282.8 L459.2,284.4 L460.2,286.1 L461.2,287.9 L462.2,289.7 L463.2,291.5 L464.2,293.4 L465.2,295.3 L466.2,297.4 L467.2,299.4 L468.2,301.6 L469.2,303.8 L470.2,306.1 L471.2,308.5 L472.2,310.9 L473.2,313.4 L474.2,316.0 L475.2,318.7 L476.2,321.5 L477.2,324.3 L478.2,327.2 L479.2,330.2 L480.2,333.3 L481.2,336.4 L482.2,339.5 L483.2,342.8 L484.2,346.0 L485.2,349.4 L486.2,352.7 L487.2,356.1 L488.2,359.5 L489.2,362.9 L490.2,366.4 L491.2,369.8 L492.2,373.3 L493.2,376.8 L494.2,380.2 L495.2,383.7 L496.2,387.1 L497.2,390.6 L498.2,394.0 L499.2,397.4 L500.2,400.9 L501.2,404.3 L502.2,407.7 L503.2,411.1 L504.2,414.5 L505.2,417.9 L506.2,421.3 L507.2,424.7 L508.2,428.1 L509.2,431.6 L510.2,435.0 L511.2,438.5 L512.2,442.0 L513.2,445.5 L514.2,449.0 L515.2,452.6 L516.2,456.2 L517.2,459.8 L518.2,463.5 L519.2,467.2 L520.2,470.9 L521.2,474.7 L522.2,478.5 L523.2,482.4 L524.2,486.3 L525.2,490.3 L526.2,494.3 L527.2,498.3 L528.2,502.4 L529.2,506.4 L530.2,510.6 L531.2,514.7 L532.2,518.9 L533.2,523.1 L534.2,527.3 L535.2,531.6 L536.2,535.8 L537.2,540.0 L538.2,544.3 L539.2,548.5 L540.2,552.8 L541.2,557.0 L542.2,561.2 L543.2,565.4 L544.2,569.6 L545.2,573.8 L546.2,577.9 L547.2,582.1 L548.2,586.2 L549.2,590.3 L550.2,594.4 L551.2,598.5 L552.2,602.6 L553.2,606.6 L554.2,610.7 L555.2,614.8 L556.2,618.9 L557.2,623.0 L558.2,627.2 L559.2,631.3 L560.2,635.5 L561.2,639.7 L562.2,644.0 L563.2,648.2 L564.2,652.6 L565.2,656.9 L566.2,661.3 L567.2,665.7 L568.2,670.2 L569.2,674.7 L570.2,679.2 L571.2,683.7 L572.2,688.3 L573.2,692.8 L574.2,697.4 L575.2,701.9 L576.2,706.5 L577.2,711.0 L578.2,715.5 L579.2,719.9 L580.2,724.3 L581.2,728.6 L582.2,732.9 L583.2,737.2 L584.2,741.3 L585.2,745.4 L586.2,749.4 L587.2,753.3 L588.2,757.1 L589.2,760.9 L590.2,764.6 L591.2,768.2 L592.2,771.7 L593.2,775.1 L594.2,778.4 L595.2,781.7 L596.2,784.9 L597.2,788.0 L598.2,791.1 L599.2,794.1 L600.2,797.1 L601.2,800.0 L602.2,802.8 L603.2,805.6 L604.2,808.4 L605.2,811.1 L606.2,813.7 L607.2,816.4 L608.2,819.0 L609.2,821.5 L610.2,824.0 L611.2,826.5 L612.2,828.9 L613.2,831.3 L614.2,833.7 L615.2,836.0 L616.2,838.3 L617.2,840.5 L618.2,842.7 L619.2,844.8 L620.2,846.9 L621.2,848.9 L622.2,850.8 L623.2,852.7 L624.2,854.6 L625.2,856.3 L626.2,858.1 L627.2,859.7 L628.2,861.4 L629.2,862.9 L630.2,864.4 L631.2,865.8 L632.2,867.2 L633.2,868.6 L634.2,869.9 L635.2,871.1 L636.2,872.3 L637.2,873.5 L638.2,874.6 L639.2,875.7 L640.2,876.7 L641.2,877.7 L642.2,878.7 L643.2,879.6 L644.2,880.6 L645.2,881.4 L646.2,882.3 L647.2,883.1 L648.2,883.9 L649.2,884.7 L650.2,885.5 L651.2,886.2 L652.2,886.9 L653.2,887.6 L654.2,888.2 L655.2,888.9 L656.2,889.5 L657.2,890.0 L658.2,890.6 L659.2,891.1 L660.2,891.6 L661.2,892.0 L662.2,892.4 L663.2,892.8 L664.2,893.2 L665.2,893.5 L666.2,893.9 L667.2,894.2 L668.2,894.4 L669.2,894.7 L670.2,894.9 L671.2,895.1 L672.2,895.3 L673.2,895.5 L674.2,895.6 L675.2,895.8 L676.2,895.9 L677.2,896.0 L678.2,896.2 L679.2,896.3 L680.2,896.4 L681.2,896.5 L682.2,896.7 L683.2,896.8 L684.2,896.9 L685.2,897.1 L686.2,897.2 L687.2,897.4 L688.2,897.5 L689.2,897.7 L690.2,897.9 L691.2,898.0 L692.2,898.2 L693.2,898.4 L694.2,898.6 L695.2,898.8 L696.2,899.0 L697.2,899.2 L698.2,899.4 L699.2,899.6 L700.2,899.9 L701.2,900.1 L702.2,900.3 L703.2,900.5 L704.2,900.7 L705.2,900.9 L706.2,901.1 L707.2,901.2 L708.2,901.4 L709.2,901.6 L710.2,901.7 L711.2,901.9 L712.2,902.0 L713.2,902.2 L714.2,902.3 L715.2,902.4 L716.2,902.5 L717.2,902.6 L718.2,902.7 L719.2,902.8 L720.2,902.9 L721.2,903.0 L722.2,903.1 L723.2,903.1 L724.2,903.2 L725.2,903.3 L726.2,903.4 L727.2,903.5 L728.2,903.5 L729.2,903.6 L730.2,903.7 L731.2,903.8 L732.2,903.9 L733.2,904.0 L734.2,904.1 L735.2,904.3 L736.2,904.4 L737.2,904.5 L738.2,904.7 L739.2,904.8 L740.2,905.0 L741.2,905.2 L742.2,905.4 L743.2,905.5 L744.2,905.7 L745.2,905.9 L746.2,906.1 L747.2,906.3 L748.2,906.6 L749.2,906.8 L750.2,907.0 L751.2,907.2 L752.2,907.4 L753.2,907.6 L754.2,907.9 L755.2,908.1 L756.2,908.3 L757.2,908.5 L758.2,908.7 L759.2,908.9 L760.2,909.1 L761.2,909.3 L762.2,909.5 L763.2,909.7 L764.2,909.9 L765.2,910.0 L766.2,910.2 L767.2,910.3 L768.2,910.5 L769.2,910.6 L770.2,910.7 L771.2,910.9 L772.2,911.0 L773.2,911.1 L774.2,911.2 L775.2,911.3 L776.2,911.3 L777.2,911.4 L778.2,911.5 L779.2,911.5 L780.2,911.6 L781.2,911.6 L782.2,911.7 L783.2,911.7 L784.2,911.8 L785.2,911.8 L786.2,911.8 L787.2,911.9 L788.2,911.9 L789.2,911.9 L790.2,912.0 L791.2,912.0 L792.2,912.0 L793.2,912.0 L794.2,912.1 L795.2,912.1 L796.2,912.1 L797.2,912.2 L798.2,912.2 L799.2,912.2 L800.2,912.3 L801.2,912.3 L802.2,912.4 L802.3,912.4"/>
<path stroke="#E76BF3" d="M111.2,847.8 L112.2,843.2 L113.2,838.4 L114.2,833.4 L115.2,828.1 L116.2,822.7 L117.2,817.2 L118.2,811.4 L119.2,805.4 L120.2,799.3 L121.2,793.0 L122.2,786.5 L123.2,779.8 L124.2,773.0 L125.2,766.0 L126.2,758.9 L127.2,751.6 L128.2,744.2 L129.2,736.6 L130.2,728.9 L131.2,721.1 L132.2,713.1 L133.2,705.0 L134.2,696.8 L135.2,688.5 L136.2,680.0 L137.2,671.5 L138.2,662.8 L139.2,654.0 L140.2,645.2 L141.2,636.3 L142.2,627.2 L143.2,618.1 L144.2,609.0 L145.2,599.7 L146.2,590.5 L147.2,581.1 L148.2,571.7 L149.2,562.3 L150.2,552.8 L151.2,543.3 L152.2,533.7 L153.2,524.2 L154.2,514.6 L155.2,505.0 L156.2,495.4 L157.2,485.9 L158.2,476.3 L159.2,466.7 L160.2,457.2 L161.2,447.7 L162.2,438.2 L163.2,428.8 L164.2,419.4 L165.2,410.1 L166.2,400.8 L167.2,391.5 L168.2,382.4 L169.2,373.3 L170.2,364.3 L171.2,355.4 L172.2,346.5 L173.2,337.8 L174.2,329.2 L175.2,320.7 L176.2,312.3 L177.2,304.0 L178.2,295.9 L179.2,287.9 L180.2,280.1 L181.2,272.4 L182.2,264.9 L183.2,257.6 L184.2,250.4 L185.2,243.4 L186.2,236.6 L187.2,230.0 L188.2,223.6 L189.2,217.3 L190.2,211.2 L191.2,205.3 L192.2,199.6 L193.2,194.1 L194.2,188.7 L195.2,183.6 L196.2,178.5 L197.2,173.7 L198.2,169.0 L199.2,164.4 L200.2,160.0 L201.2,155.7 L202.2,151.6 L203.2,147.6 L204.2,143.7 L205.2,139.9 L206.2,136.3 L207.2,132.7 L208.2,129.3 L209.2,126.0 L210.2,122.8 L211.2,119.7 L212.2,116.7 L213.2,113.8 L214.2,111.1 L215.2,108.5 L216.2,106.0 L217.2,103.6 L218.2,101.3 L219.2,99.3 L220.2,97.3 L221.2,95.5 L222.2,93.9 L223.2,92.4 L224.2,91.0 L225.2,89.9 L226.2,88.9 L227.2,88.0 L228.2,87.4 L229.2,86.9 L230.2,86.6 L231.2,86.4 L232.2,86.4 L233.2,86.6 L234.2,86.9 L235.2,87.4 L236.2,88.1 L237.2,88.9 L238.2,89.8 L239.2,90.9 L240.2,92.1 L241.2,93.4 L242.2,94.9 L243.2,96.4 L244.2,98.1 L245.2,99.8 L246.2,101.6 L247.2,103.5 L248.2,105.4 L249.2,107.4 L250.2,109.5 L251.2,111.5 L252.2,113.6 L253.2,115.7 L254.2,117.8 L255.2,119.9 L256.2,121.9 L257.2,124.0 L258.2,126.0 L259.2,128.0 L260.2,129.9 L261.2,131.8 L262.2,133.6 L263.2,135.3 L264.2,137.0 L265.2,138.6 L266.2,140.1 L267.2,141.5 L268.2,142.9 L269.2,144.1 L270.2,145.3 L271.2,146.3 L272.2,147.3 L273.2,148.2 L274.2,149.0 L275.2,149.8 L276.2,150.4 L277.2,151.0 L278.2,151.5 L279.2,152.0 L280.2,152.4 L281.2,152.8 L282.2,153.1 L283.2,153.4 L284.2,153.6 L285.2,153.9 L286.2,154.1 L287.2,154.4 L288.2,154.6 L289.2,154.9 L290.2,155.2 L291.2,155.5 L292.2,155.9 L293.2,156.3 L294.2,156.8 L295.2,157.3 L296.2,157.9 L297.2,158.5 L298.2,159.2 L299.2,160.0 L300.2,160.8 L301.2,161.7 L302.2,162.6 L303.2,163.7 L304.2,164.8 L305.2,165.9 L306.2,167.2 L307.2,168.5 L308.2,169.8 L309.2,171.3 L310.2,172.8 L311.2,174.4 L312.2,176.0 L313.2,177.8 L314.2,179.6 L315.2,181.5 L316.2,183.5 L317.2,185.6 L318.2,187.7 L319.2,190.0 L320.2,192.4 L321.2,194.8 L322.2,197.4 L323.2,200.1 L324.2,202.9 L325.2,205.8 L326.2,208.8 L327.2,211.9 L328.2,215.1 L329.2,218.4 L330.2,221.8 L331.2,225.3 L332.2,228.9 L333.2,232.6 L334.2,236.3 L335.2,240.0 L336.2,243.8 L337.2,247.7 L338.2,251.5 L339.2,255.4 L340.2,259.2 L341.2,263.0 L342.2,266.8 L343.2,270.6 L344.2,274.2 L345.2,277.8 L346.2,281.4 L347.2,284.8 L348.2,288.2 L349.2,291.4 L350.2,294.5 L351.2,297.5 L352.2,300.4 L353.2,303.2 L354.2,305.8 L355.2,308.3 L356.2,310.6 L357.2,312.8 L358.2,314.9 L359.2,316.8 L360.2,318.6 L361.2,320.3 L362.2,321.8 L363.2,323.2 L364.2,324.4 L365.2,325.5 L366.2,326.4 L367.2,327.2 L368.2,327.9 L369.2,328.4 L370.2,328.8 L371.2,329.0 L372.2,329.1 L373.2,329.1 L374.2,329.0 L375.2,328.7 L376.2,328.3 L377.2,327.7 L378.2,327.1 L379.2,326.3 L380.2,325.5 L381.2,324.5 L382.2,323.5 L383.2,322.3 L384.2,321.1 L385.2,319.8 L386.2,318.5 L387.2,317.1 L388.2,315.6 L389.2,314.2 L390.2,312.6 L391.2,311.1 L392.2,309.6 L393.2,308.0 L394.2,306.4 L395.2,304.9 L396.2,303.3 L397.2,301.8 L398.2,300.3 L399.2,298.8 L400.2,297.4 L401.2,296.0 L402.2,294.6 L403.2,293.3 L404.2,292.0 L405.2,290.9 L406.2,289.7 L407.2,288.7 L408.2,287.7 L409.2,286.8 L410.2,285.9 L411.2,285.2 L412.2,284.6 L413.2,284.0 L414.2,283.6 L415.2,283.3 L416.2,283.1 L417.2,283.0 L418.2,283.1 L419.2,283.3 L420.2,283.6 L421.2,284.1 L422.2,284.6 L423.2,285.4 L424.2,286.2 L425.2,287.2 L426.2,288.4 L427.2,289.6 L428.2,291.0 L429.2,292.5 L430.2,294.2 L431.2,295.9 L432.2,297.8 L433.2,299.8 L434.2,301.9 L435.2,304.0 L436.2,306.3 L437.2,308.6 L438.2,311.1 L439.2,313.5 L440.2,316.1 L441.2,318.7 L442.2,321.4 L443.2,324.1 L444.2,326.8 L445.2,329.6 L446.2,332.4 L447.2,335.2 L448.2,338.0 L449.2,340.9 L450.2,343.7 L451.2,346.6 L452.2,349.5 L453.2,352.3 L454.2,355.1 L455.2,358.0 L456.2,360.8 L457.2,363.6 L458.2,366.3 L459.2,369.1 L460.2,371.8 L461.2,374.5 L462.2,377.1 L463.2,379.7 L464.2,382.3 L465.2,384.9 L466.2,387.4 L467.2,389.9 L468.2,392.3 L469.2,394.7 L470.2,397.1 L471.2,399.4 L472.2,401.7 L473.2,404.0 L474.2,406.2 L475.2,408.5 L476.2,410.7 L477.2,412.9 L478.2,415.0 L479.2,417.2 L480.2,419.3 L481.2,421.4 L482.2,423.5 L483.2,425.6 L484.2,427.6 L485.2,429.7 L486.2,431.8 L487.2,433.8 L488.2,435.8 L489.2,437.9 L490.2,439.9 L491.2,441.9 L492.2,443.9 L493.2,445.9 L494.2,447.9 L495.2,449.9 L496.2,451.9 L497.2,453.9 L498.2,455.9 L499.2,457.9 L500.2,459.9 L501.2,461.9 L502.2,463.9 L503.2,465.9 L504.2,468.0 L505.2,470.1 L506.2,472.2 L507.2,474.4 L508.2,476.5 L509.2,478.8 L510.2,481.1 L511.2,483.4 L512.2,485.8 L513.2,488.2 L514.2,490.7 L515.2,493.3 L516.2,496.0 L517.2,498.7 L518.2,501.5 L519.2,504.4 L520.2,507.3 L521.2,510.3 L522.2,513.4 L523.2,516.6 L524.2,519.8 L525.2,523.1 L526.2,526.5 L527.2,529.9 L528.2,533.4 L529.2,536.9 L530.2,540.5 L531.2,544.1 L532.2,547.7 L533.2,551.3 L534.2,554.9 L535.2,558.5 L536.2,562.2 L537.2,565.8 L538.2,569.4 L539.2,572.9 L540.2,576.5 L541.2,580.0 L542.2,583.4 L543.2,586.8 L544.2,590.2 L545.2,593.5 L546.2,596.8 L547.2,600.0 L548.2,603.1 L549.2,606.2 L550.2,609.3 L551.2,612.3 L552.2,615.3 L553.2,618.3 L554.2,621.2 L555.2,624.1 L556.2,626.9 L557.2,629.7 L558.2,632.5 L559.2,635.3 L560.2,638.0 L561.2,640.8 L562.2,643.5 L563.2,646.2 L564.2,648.8 L565.2,651.5 L566.2,654.1 L567.2,656.7 L568.2,659.2 L569.2,661.8 L570.2,664.3 L571.2,666.7 L572.2,669.1 L573.2,671.5 L574.2,673.8 L575.2,676.0 L576.2,678.2 L577.2,680.4 L578.2,682.5 L579.2,684.5 L580.2,686.5 L581.2,688.4 L582.2,690.2 L583.2,692.0 L584.2,693.8 L585.2,695.5 L586.2,697.2 L587.2,698.9 L588.2,700.5 L589.2,702.1 L590.2,703.7 L591.2,705.3 L592.2,706.9 L593.2,708.5 L594.2,710.1 L595.2,711.8 L596.2,713.4 L597.2,715.1 L598.2,716.9 L599.2,718.6 L600.2,720.4 L601.2,722.3 L602.2,724.2 L603.2,726.1 L604.2,728.0 L605.2,730.0 L606.2,732.0 L607.2,734.1 L608.2,736.1 L609.2,738.2 L610.2,740.3 L611.2,742.5 L612.2,744.6 L613.2,746.7 L614.2,748.8 L615.2,751.0 L616.2,753.1 L617.2,755.2 L618.2,757.3 L619.2,759.4 L620.2,761.4 L621.2,763.5 L622.2,765.6 L623.2,767.6 L624.2,769.6 L625.2,771.7 L626.2,773.7 L627.2,775.8 L628.2,777.8 L629.2,779.8 L630.2,781.9 L631.2,784.0 L632.2,786.1 L633.2,788.2 L634.2,790.3 L635.2,792.5 L636.2,794.7 L637.2,796.9 L638.2,799.1 L639.2,801.3 L640.2,803.6 L641.2,805.9 L642.2,808.2 L643.2,810.5 L644.2,812.8 L645.2,815.1 L646.2,817.4 L647.2,819.7 L648.2,822.0 L649.2,824.3 L650.2,826.6 L651.2,828.8 L652.2,831.1 L653.2,833.2 L654.2,835.4 L655.2,837.5 L656.2,839.6 L657.2,841.6 L658.2,843.6 L659.2,845.5 L660.2,847.3 L661.2,849.2 L662.2,851.0 L663.2,852.7 L664.2,854.4 L665.2,856.0 L666.2,857.6 L667.2,859.1 L668.2,860.6 L669.2,862.1 L670.2,863.5 L671.2,864.9 L672.2,866.3 L673.2,867.7 L674.2,869.0 L675.2,870.3 L676.2,871.5 L677.2,872.8 L678.2,874.0 L679.2,875.2 L680.2,876.5 L681.2,877.6 L682.2,878.8 L683.2,880.0 L684.2,881.1 L685.2,882.3 L686.2,883.4 L687.2,884.5 L688.2,885.6 L689.2,886.6 L690.2,887.7 L691.2,888.7 L692.2,889.7 L693.2,890.7 L694.2,891.7 L695.2,892.6 L696.2,893.5 L697.2,894.4 L698.2,895.3 L699.2,896.1 L700.2,896.9 L701.2,897.7 L702.2,898.4 L703.2,899.2 L704.2,899.8 L705.2,900.5 L706.2,901.1 L707.2,901.7 L708.2,902.3 L709.2,902.8 L710.2,903.3 L711.2,903.8 L712.2,904.3 L713.2,904.7 L714.2,905.1 L715.2,905.5 L716.2,905.8 L717.2,906.2 L718.2,906.5 L719.2,906.8 L720.2,907.0 L721.2,907.3 L722.2,907.5 L723.2,907.8 L724.2,908.0 L725.2,908.2 L726.2,908.4 L727.2,908.5 L728.2,908.7 L729.2,908.9 L730.2,909.0 L731.2,909.2 L732.2,909.3 L733.2,909.4 L734.2,909.6 L735.2,909.7 L736.2,909.8 L737.2,909.9 L738.2,910.0 L739.2,910.1 L740.2,910.2 L741.2,910.3 L742.2,910.4 L743.2,910.5 L744.2,910.5 L745.2,910.6 L746.2,910.7 L747.2,910.8 L748.2,910.8 L749.2,910.9 L750.2,911.0 L751.2,911.0 L752.2,911.1 L753.2,911.1 L754.2,911.2 L755.2,911.2 L756.2,911.3 L757.2,911.3 L758.2,911.3 L759.2,911.4 L760.2,911.4 L761.2,911.4 L762.2,911.5 L763.2,911.5 L764.2,911.5 L765.2,911.6 L766.2,911.6 L767.2,911.6 L768.2,911.7 L769.2,911.7 L770.2,911.7 L771.2,911.8 L772.2,911.8 L773.2,911.8 L774.2,911.9 L775.2,911.9 L776.2,911.9 L777.2,912.0 L778.2,912.0 L779.2,912.1 L780.2,912.1 L781.2,912.2 L782.2,912.2 L783.2,912.3 L784.2,912.3 L785.2,912.4 L786.2,912.4 L787.2,912.5 L788.2,912.5 L789.2,912.6 L790.2,912.6 L791.2,912.7 L792.2,912.7 L793.2,912.7 L794.2,912.8 L795.2,912.8 L796.2,912.9 L797.2,912.9 L798.2,912.9 L799.2,912.9 L800.2,913.0 L801.2,913.0 L802.2,913.0 L802.3,913.0"/>
</g>
<g stroke="#333" stroke-width="2.3">
<line x1="110.75" x2="110.75" y1="957.2" y2="963.1"/>
<line x1="278.46" x2="278.46" y1="957.2" y2="963.1"/>
<line x1="446.17" x2="446.17" y1="957.2" y2="963.1"/>
<line x1="613.88" x2="613.88" y1="957.2" y2="963.1"/>
<line x1="781.59" x2="781.59" y1="957.2" y2="963.1"/>
<line y1="914.00" y2="914.00" x1="71.14999999999999" x2="77.05"/>
<line y1="747.92" y2="747.92" x1="71.14999999999999" x2="77.05"/>
<line y1="581.84" y2="581.84" x1="71.14999999999999" x2="77.05"/>
<line y1="415.76" y2="415.76" x1="71.14999999999999" x2="77.05"/>
<line y1="249.68" y2="249.68" x1="71.14999999999999" x2="77.05"/>
<line y1="83.60" y2="83.60" x1="71.14999999999999" x2="77.05"/>
</g>
<g fill="#4D4D4D" font-size="18.9px">
<text x="110.75" y="981.1" text-anchor="middle">0</text>
<text x="278.46" y="981.1" text-anchor="middle">10</text>
<text x="446.17" y="981.1" text-anchor="middle">20</text>
<text x="613.88" y="981.1" text-anchor="middle">30</text>
<text x="781.59" y="981.1" text-anchor="middle">40</text>
<text x="66.4" y="921.20" text-anchor="end">0.00</text>
<text x="66.4" y="754.32" text-anchor="end">0.01</text>
<text x="66.4" y="588.24" text-anchor="end">0.02</text>
<text x="66.4" y="422.16" text-anchor="end">0.03</text>
<text x="66.4" y="256.08" text-anchor="end">0.04</text>
<text x="66.4" y="90.00" text-anchor="end">0.05</text>
</g>
<text x="457.1" y="1006.8" text-anchor="middle" font-size="23.6px" fill="#000">Slope (deg)</text>
<text transform="translate(18.7,480) rotate(-90)" text-anchor="middle" font-size="23.6px" fill="#000">density</text>
<text x="872.2" y="389.7" font-size="23.6px" fill="#000">DEM</text>
<rect x="873.90" y="405.00" width="33.9" height="33.8" fill="#F2F2F2" stroke="#F8766D" stroke-width="2.2" stroke-linejoin="round"/>
<text x="920.8" y="428.10" font-size="18.9px" fill="#000">COP30</text>
<rect x="873.90" y="442.20" width="33.9" height="33.8" fill="#F2F2F2" stroke="#A3A500" stroke-width="2.2" stroke-linejoin="round"/>
<text x="920.8" y="465.30" font-size="18.9px" fill="#000">FABDEM</text>
<rect x="873.90" y="479.40" width="33.9" height="33.8" fill="#F2F2F2" stroke="#00BF7D" stroke-width="2.2" stroke-linejoin="round"/>
<text x="920.8" y="502.50" font-size="18.9px" fill="#000">lidar</text>
<rect x="873.90" y="516.60" width="33.9" height="33.8" fill="#F2F2F2" stroke="#00B0F6" stroke-width="2.2" stroke-linejoin="round"/>
<text x="920.8" y="539.70" font-size="18.9px" fill="#000">MERIT</text>
<rect x="873.90" y="553.80" width="33.9" height="33.8" fill="#F2F2F2" stroke="#E76BF3" stroke-width="2.2" stroke-linejoin="round"/>
<text x="920.8" y="576.90" font-size="18.9px" fill="#000">SRTM</text>
</svg></body></html>
